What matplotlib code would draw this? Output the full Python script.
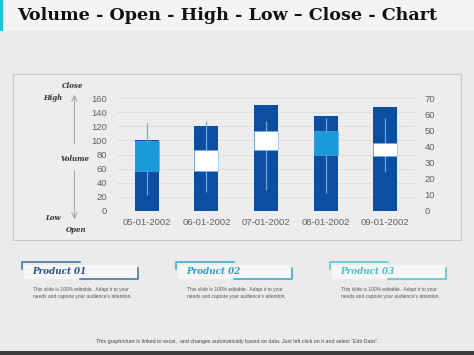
import matplotlib.pyplot as plt
from matplotlib.patches import Rectangle
from matplotlib.lines import Line2D

# data
dates = ['05-01-2002', '06-01-2002', '07-01-2002', '08-01-2002', '09-01-2002']
volume = [100, 120, 150, 135, 147]
open_ = [43.5, 25, 37.5, 49.5, 34]
close = [25, 37.5, 49.5, 34.5, 42]
high = [54.5, 56, 56, 57.5, 57.5]
low = [10, 12, 13, 11, 24]
products = ['Product 01', 'Product 02', 'Product 03']
product_colors = ['#25508a', '#2e9cc6', '#48c0c4']
line_colors = ['#3e6d9e', '#3aa3cc', '#4cc6ca']
body = ["This slide is 100% editable.  Adapt it to your",
        "needs and capture your audience's attention."]
footer = ("This graph/chart is linked to excel,  and changes automatically based on data. "
          "Just left click on it and select \u201cEdit Data\u201d.")

W, H = 474, 355
fig = plt.figure(figsize=(W / 100, H / 100), dpi=100)
fig.patch.set_facecolor('#ebebeb')


def fx(x):
    return x / W


def fy(y):
    return 1 - y / H


def frect(x0, y0, x1, y1, **kw):
    fig.add_artist(Rectangle((fx(x0), fy(y1)), fx(x1) - fx(x0), fy(y0) - fy(y1),
                             transform=fig.transFigure, zorder=-1, **kw))


def fline(xs, ys, **kw):
    fig.add_artist(Line2D([fx(x) for x in xs], [fy(y) for y in ys],
                          transform=fig.transFigure, **kw))


# title band
frect(0, 0, W, 31, color='#f4f4f4', lw=0)
frect(0, 0, 3, 31, color='#1cc5dc', lw=0)
fig.text(fx(17), fy(16), 'Volume - Open - High - Low \u2013 Close - Chart',
         family='DejaVu Serif', weight='bold', fontsize=12.6, color='#111111',
         va='center', ha='left')

# chart panel
frect(12.5, 74, 461, 240, facecolor='#ededed', edgecolor='#c8c8c8', lw=0.8)

# main axes
ax = fig.add_axes([fx(117), fy(211), fx(415) - fx(117), fy(98) - fy(211)])
ax.set_facecolor('none')
x = range(len(dates))
ax.bar(x, volume, width=0.4, color='#0b4ea2', zorder=2)
ax.set_ylim(0, 160)
ax.set_xlim(-0.5, len(dates) - 0.5)
ax.set_yticks(range(0, 161, 20))
ax.set_xticks(list(x))
ax.set_xticklabels(dates)
ax.grid(axis='y', color='#dadada', lw=0.6, zorder=0)
for s in ax.spines.values():
    s.set_visible(False)
ax.tick_params(length=0, labelsize=6.8, labelcolor='#606060', pad=7)
ax.tick_params(axis='x', pad=5)
for t in ax.get_xticklabels() + ax.get_yticklabels():
    t.set_family('Liberation Sans')

ax2 = ax.twinx()
ax2.set_ylim(0, 70)
ax2.set_yticks(range(0, 71, 10))
for s in ax2.spines.values():
    s.set_visible(False)
ax2.tick_params(length=0, labelsize=6.8, labelcolor='#606060', pad=7)
for t in ax2.get_yticklabels():
    t.set_family('Liberation Sans')
for i in x:
    ax2.vlines(i, low[i], high[i], color='#72a8da', lw=0.9, zorder=2)
    up = close[i] > open_[i]
    lo, hi = min(open_[i], close[i]), max(open_[i], close[i])
    ax2.bar(i, hi - lo, bottom=lo, width=0.4,
            color='white' if up else '#1a9ad9',
            edgecolor='#6aaedc', lw=0.4, zorder=3)

# left annotation
lab = dict(family='DejaVu Serif', style='italic', weight='bold', fontsize=5,
           color='#333333', ha='center', va='center')
fig.text(fx(73), fy(86), 'Close', **lab)
fig.text(fx(53), fy(97.5), 'High', **lab)
fig.text(fx(75), fy(158.5), 'Volume', **lab)
fig.text(fx(53), fy(218), 'Low', **lab)
fig.text(fx(76), fy(229.5), 'Open', **lab)
fig.add_artist(plt.Annotation('', xy=(fx(74.5), fy(92)), xytext=(fx(74.5), fy(147)),
                              xycoords='figure fraction',
                              arrowprops=dict(arrowstyle='->', color='#a0a0a0', lw=0.7)))
fig.add_artist(plt.Annotation('', xy=(fx(74.5), fy(222)), xytext=(fx(74.5), fy(168)),
                              xycoords='figure fraction',
                              arrowprops=dict(arrowstyle='->', color='#a0a0a0', lw=0.7)))

# product boxes
for k, name in enumerate(products):
    x0 = 21.7 + 154 * k
    frect(x0 + 2.5, 265, x0 + 115, 279, color='#f6f6f6', lw=0)
    fline([x0, x0, x0 + 58], [268.5, 262.3, 262.3], color=line_colors[k], lw=1.1)
    fline([x0 + 58, x0 + 116.5, x0 + 116.5], [279, 279, 267.5], color=line_colors[k], lw=1.1)
    fig.text(fx(x0 + 11), fy(271.8), name, family='DejaVu Serif', style='italic',
             weight='bold', fontsize=6.3, color=product_colors[k], va='center')
    for j, line in enumerate(body):
        fig.text(fx(x0 + 11), fy(289.3 + 7.4 * j), line, family='Liberation Sans',
                 fontsize=3.5, color='#555555', va='center')

# footer
fig.text(fx(237), fy(341.5), footer, family='Liberation Sans', fontsize=3.8,
         color='#444444', ha='center', va='center')
frect(0, 350.5, W, H, color='#3c3c3c', lw=0)

plt.savefig('out.png', dpi=100)
